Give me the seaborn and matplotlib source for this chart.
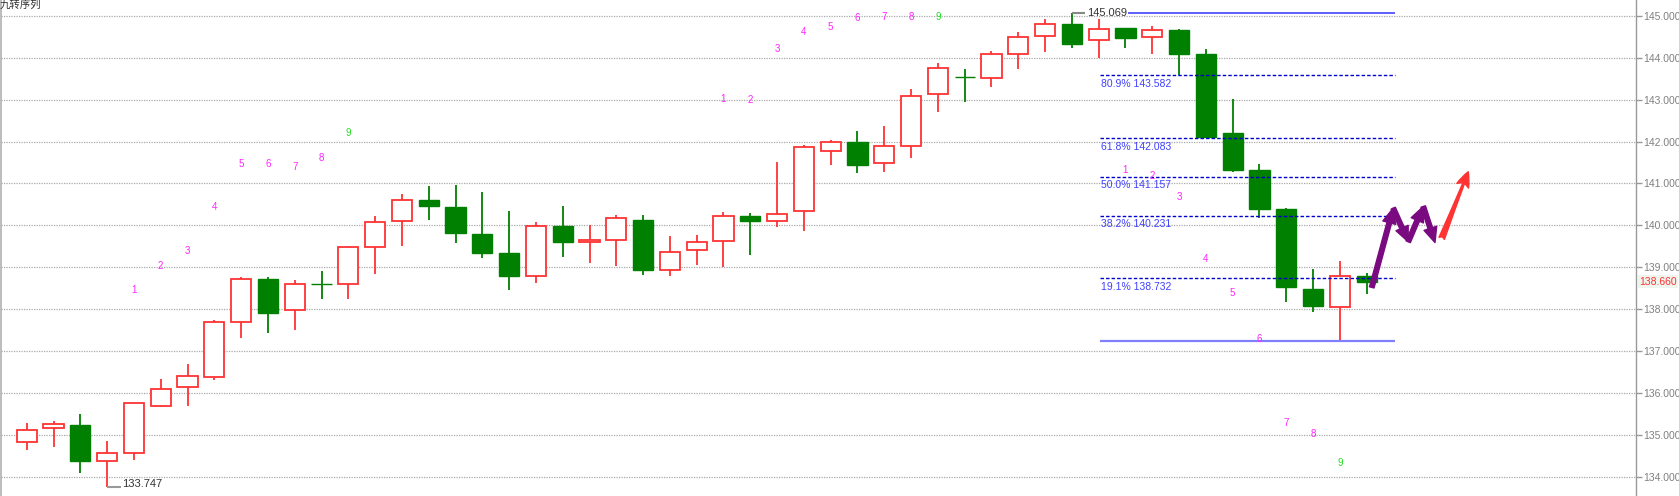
import numpy as np
import pandas as pd
import matplotlib
matplotlib.use("Agg")
import matplotlib.pyplot as plt
import matplotlib.transforms as mtransforms
import seaborn as sns

# ================================
# Data
# ================================
opens = [134.82, 135.16, 135.23, 134.37, 134.56, 135.68, 136.14, 136.39, 137.69, 138.72,
         137.99, 138.59, 138.61, 139.48, 140.10, 140.61, 140.44, 139.80, 139.34, 138.80,
         139.99, 139.60, 139.66, 140.12, 138.93, 139.42, 139.62, 140.23, 140.11, 140.34,
         141.78, 141.99, 141.48, 141.89, 143.13, 143.54, 143.53, 144.09, 144.52, 144.81,
         144.42, 144.70, 144.49, 144.67, 144.09, 142.21, 141.32, 140.39, 138.47, 138.06,
         138.78]
highs = [135.28, 135.34, 135.49, 134.85, 135.75, 136.33, 136.70, 137.74, 138.76, 138.76,
         138.69, 138.90, 139.50, 140.23, 140.74, 140.94, 140.96, 140.79, 140.34, 140.08,
         140.46, 140.01, 140.25, 140.25, 139.75, 139.77, 140.32, 140.29, 141.51, 141.92,
         142.03, 142.26, 142.37, 143.25, 143.88, 143.73, 144.16, 144.62, 144.92, 145.069,
         144.93, 144.71, 144.76, 144.69, 144.21, 143.02, 141.47, 140.42, 138.96, 139.15,
         138.86]
lows = [134.64, 134.72, 134.10, 133.747, 134.40, 135.66, 135.70, 136.31, 137.30, 137.44,
        137.51, 138.24, 138.24, 138.83, 139.51, 140.13, 139.58, 139.23, 138.45, 138.62,
        139.25, 139.11, 139.04, 138.82, 138.78, 139.06, 139.01, 139.29, 139.96, 139.87,
        141.45, 141.24, 141.28, 141.62, 142.70, 142.95, 143.30, 143.73, 144.14, 144.23,
        143.99, 144.23, 144.09, 143.58, 142.10, 141.28, 140.18, 138.18, 137.93, 137.23,
        138.37]
closes = [135.12, 135.25, 134.38, 134.56, 135.75, 136.10, 136.40, 137.70, 138.71, 137.91,
          138.59, 138.59, 139.48, 140.07, 140.60, 140.46, 139.81, 139.35, 138.80, 139.98,
          139.60, 139.65, 140.17, 138.94, 139.37, 139.60, 140.23, 140.11, 140.28, 141.87,
          141.98, 141.45, 141.89, 143.10, 143.75, 143.54, 144.09, 144.49, 144.80, 144.34,
          144.68, 144.48, 144.66, 144.09, 142.12, 141.32, 140.38, 138.52, 138.07, 138.80,
          138.66]

# TD sequential counts (九转序列): candle index, count, above/below
td_up_idx = list(range(4, 13)) + list(range(26, 35))
td_up_num = list(range(1, 10)) * 2
td_dn_idx = list(range(41, 50))
td_dn_num = list(range(1, 10))

# Fibonacci retracement
fib_high = 145.069
fib_low = 137.233
fib_pcts = ["80.9%", "61.8%", "50.0%", "38.2%", "19.1%"]
fib_levels = [143.582, 142.083, 141.157, 140.231, 138.732]

hi_idx, hi_label = 39, "145.069"
lo_idx, lo_label = 3, "133.747"
last_price = 138.660

# hand-drawn arrows (candle index, price)
purple_x = [50.19, 50.99, 51.55, 52.11, 52.55]
purple_y = [138.52, 140.41, 139.61, 140.45, 139.59]
red_x = [52.80, 53.79]
red_y = [139.69, 141.28]

yticks = list(range(134, 146))

df = pd.DataFrame({"open": opens, "high": highs, "low": lows, "close": closes})
df["up"] = df["close"] > df["open"]

# ================================
# Style
# ================================
sns.set_theme(style="white")
plt.rcParams["font.family"] = ["Liberation Sans", "Noto Sans CJK SC", "DejaVu Sans"]

RED = "#ff3333"
GREEN = "#008000"
GRID = "#aaaaaa"

fig = plt.figure(figsize=(16.79, 4.96), dpi=100)
ax = fig.add_axes([1 / 1679, 0, 1635 / 1679, 1])
ax.set_xlim(-0.96, 60.05)
ax.set_ylim(133.54, 145.38)

# ================================
# Candles
# ================================
x = np.arange(len(df))
wick_col = np.where(df["up"], RED, GREEN)
ax.vlines(x, df["low"], df["high"], colors=wick_col, linewidth=1.3, zorder=2)

body_lo = np.minimum(df["open"], df["close"])
body_h = (df["close"] - df["open"]).abs()
up = df["up"].values
ax.bar(x[up], body_h[up], bottom=body_lo[up], width=0.75,
       facecolor="white", edgecolor=RED, linewidth=1.3, zorder=3)
ax.bar(x[~up], body_h[~up], bottom=body_lo[~up], width=0.75,
       facecolor=GREEN, edgecolor=GREEN, linewidth=1.0, zorder=3)

# high / low markers
ax.hlines(df["high"][hi_idx], hi_idx, hi_idx + 0.5, color="#888888", lw=1.5, zorder=4)
ax.text(hi_idx + 0.57, df["high"][hi_idx], hi_label, va="center", ha="left",
        fontsize=8, color="#333333", zorder=5)
ax.hlines(df["low"][lo_idx], lo_idx, lo_idx + 0.5, color="#999999", lw=1.5, zorder=4)
ax.text(lo_idx + 0.57, df["low"][lo_idx] + 0.08, lo_label, va="center", ha="left",
        fontsize=8, color="#333333", zorder=5)

# ================================
# Fibonacci lines
# ================================
fx0, fx1 = 40.05, 51.06
ax.hlines(fib_high, 41.1, fx1, color="#3333ff", lw=1.1, zorder=4)
ax.hlines(fib_low, fx0, fx1, color="#8080ff", lw=1.6, zorder=4)
for pct, lvl in zip(fib_pcts, fib_levels):
    ax.hlines(lvl, fx0, fx1, color="#0000cc", lw=1.0, linestyles=(0, (2.5, 1.5)), zorder=4)
    ax.annotate(f"{pct} {lvl:.3f}", xy=(fx0, lvl), xytext=(1, -2.5),
                textcoords="offset points", va="top", ha="left",
                fontsize=7.5, color="#4040ff", zorder=5)

# ================================
# TD sequential numbers
# ================================
for i, n in zip(td_up_idx, td_up_num):
    yy = min(df["high"][i] + 2.7, 144.97)
    ax.text(i, yy, str(n), ha="center", va="center", fontsize=7,
            color="#22dd22" if n == 9 else "#ff22ff", zorder=5)
for i, n in zip(td_dn_idx, td_dn_num):
    yy = df["low"][i] - 2.9
    ax.text(i, yy, str(n), ha="center", va="center", fontsize=7,
            color="#22dd22" if n == 9 else "#ff22ff", zorder=5)

# ================================
# Arrows
# ================================
for k in range(len(purple_x) - 1):
    ax.annotate("", xy=(purple_x[k + 1], purple_y[k + 1]), xytext=(purple_x[k], purple_y[k]),
                arrowprops=dict(arrowstyle="simple,head_length=0.9,head_width=0.8,tail_width=0.28",
                                color="#7a0a80", shrinkA=0, shrinkB=0, mutation_scale=12),
                zorder=6)
ax.annotate("", xy=(red_x[1], red_y[1]), xytext=(red_x[0], red_y[0]),
            arrowprops=dict(arrowstyle="fancy,head_length=0.9,head_width=0.75,tail_width=0.35",
                            color=RED, shrinkA=0, shrinkB=0, mutation_scale=12),
            zorder=6)

# ================================
# Axes
# ================================
ax.yaxis.tick_right()
ax.set_yticks(yticks)
ax.set_yticklabels([f"{t:.3f}" for t in yticks])
ax.set_xticks([])
ax.tick_params(axis="y", right=True, length=4, width=1, color="#999999",
               labelcolor="#808080", labelsize=7.5, pad=1)
ax.grid(axis="y", color=GRID, linestyle=(0, (1, 1)), linewidth=0.9)
ax.set_axisbelow(True)
for s in ["top", "bottom"]:
    ax.spines[s].set_visible(False)
ax.spines["left"].set_color("#b0b0b0")
ax.spines["right"].set_color("#999999")
ax.spines["left"].set_linewidth(1.2)
ax.spines["right"].set_linewidth(1.0)

trans = mtransforms.blended_transform_factory(ax.transAxes, ax.transData)
ax.text(1.002, last_price, f"{last_price:.3f}", transform=trans, ha="left", va="center",
        fontsize=7.5, color=RED, clip_on=False,
        bbox=dict(boxstyle="square,pad=0.15", facecolor="#eef4ee", edgecolor="none"))

fig.text(0.0, 1.0, "九转序列", ha="left", va="top", fontsize=7.5,
         color="#333333", family=["Noto Sans CJK SC", "DejaVu Sans"])

fig.savefig("out.png", dpi=100)
